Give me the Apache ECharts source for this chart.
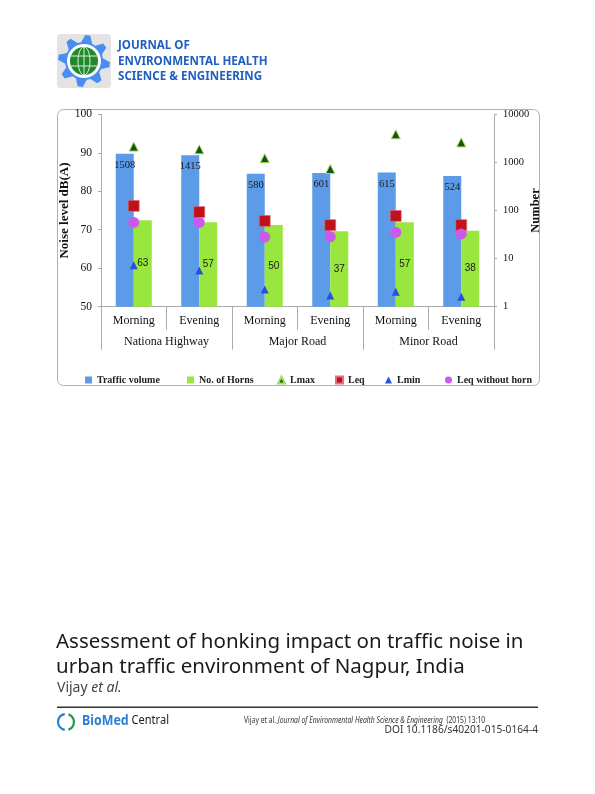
<!DOCTYPE html>
<html><head><meta charset="utf-8">
<script src="https://cdn.jsdelivr.net/npm/echarts@6/dist/echarts.min.js"></script>
<style>html,body{margin:0;padding:0;background:#fff}#c{width:595px;height:794px}</style>
</head><body><div id="c"></div>
<script>
var categories = ["Morning","Evening","Morning","Evening","Morning","Evening"];
var groups = ["Nationa Highway","Major Road","Minor Road"];
var trafficVolume = [1508,1415,580,601,615,524];
var noOfHorns = [63,57,50,37,57,38];
var lmax = [91.6,90.9,88.6,85.8,94.8,92.7];
var leq = [76.2,74.6,72.3,71.2,73.6,71.2];
var leqWithoutHorn = [71.9,71.9,68.1,68.2,69.3,68.9];
var lmin = [60.8,59.4,54.5,52.9,53.9,52.6];
var leftTicks = [50,60,70,80,90,100];
var rightTicks = [1,10,100,1000,10000];

var serif = "Liberation Serif";
var chart = echarts.init(document.getElementById('c'), null, {renderer:'canvas'});

// gear polygon for logo (decoration)
function gearPoints(cx, cy, rOut, rIn, teeth){
  var pts=[]; var n=teeth*4;
  for(var i=0;i<n;i++){
    var a = (i/n)*Math.PI*2 - Math.PI/2 + Math.PI/n/2;
    var r = (i%4<2)? rOut : rIn;
    pts.push([cx+r*Math.cos(a), cy+r*Math.sin(a)]);
  }
  return pts;
}

var legendDefs = [
  {name:'Traffic volume', icon:'rect', left:80},
  {name:'No. of Horns', icon:'rect', left:182},
  {name:'Lmax', icon:'triangle', left:272},
  {name:'Leq', icon:'rect', left:330},
  {name:'Lmin', icon:'triangle', left:380},
  {name:'Leq without horn', icon:'circle', left:440}
];

var option = {
  animation:false,
  textStyle:{fontFamily:serif},
  grid:{left:101, right:101, top:114.3, bottom:487.3, containLabel:false},
  legend: legendDefs.map(function(d){
    return {data:[{name:d.name, icon:d.icon}], left:d.left, top:370, itemWidth:7, itemHeight:7, itemGap:4,
      textStyle:{fontFamily:serif, fontWeight:'bold', fontSize:10, color:'#222'}, selectedMode:false};
  }),
  xAxis:[
    {type:'category', data:categories, position:'bottom', boundaryGap:true,
     axisLine:{lineStyle:{color:'#aaa'}}, axisTick:{show:true, interval:0, length:23, lineStyle:{color:'#aaa'}},
     axisLabel:{interval:0, margin:8, fontFamily:serif, fontSize:12, color:'#111'}},
    {type:'category', data:groups, position:'bottom', offset:23, boundaryGap:true,
     axisLine:{show:false}, axisTick:{show:true, interval:0, length:20, lineStyle:{color:'#aaa'}},
     axisLabel:{interval:0, margin:6, fontFamily:serif, fontSize:12, color:'#111'}}
  ],
  yAxis:[
    {type:'value', min:50, max:100, interval:10, position:'left',
     name:'Noise level dB(A)', nameLocation:'middle', nameGap:30, nameRotate:90, nameMoveOverlap:false,
     nameTextStyle:{fontFamily:serif, fontWeight:'bold', fontSize:13, color:'#111'},
     axisLine:{show:true, lineStyle:{color:'#aaa'}}, axisTick:{show:true, length:3, lineStyle:{color:'#aaa'}},
     splitLine:{show:false},
     axisLabel:{margin:9, fontFamily:serif, fontSize:11.5, color:'#111'}},
    {type:'log', logBase:10, min:1, max:10000, position:'right',
     name:'Number', nameLocation:'middle', nameGap:35, nameRotate:90, nameMoveOverlap:false,
     nameTextStyle:{fontFamily:serif, fontWeight:'bold', fontSize:12.5, color:'#111'},
     axisLine:{show:true, lineStyle:{color:'#aaa'}}, axisTick:{show:true, length:3, lineStyle:{color:'#aaa'}},
     splitLine:{show:false},
     axisLabel:{margin:9, fontFamily:serif, fontSize:10.5, color:'#111', formatter:function(v){return String(Math.round(v));}}}
  ],
  series:[
    {name:'Traffic volume', type:'bar', xAxisIndex:0, yAxisIndex:1, data:trafficVolume, barWidth:18, barGap:'0%',
     itemStyle:{color:'#5B9BE8'},
     label:{show:true, position:'insideTop', distance:6, fontFamily:serif, fontSize:10.5, color:'#1a1a1a'}},
    {name:'No. of Horns', type:'bar', xAxisIndex:0, yAxisIndex:1, data:noOfHorns, barWidth:18, barGap:'0%',
     itemStyle:{color:'#99E63E'},
     label:{show:true, position:'inside', fontFamily:'Liberation Sans', fontSize:10, color:'#1a1a1a'}},
    {name:'Lmax', type:'scatter', xAxisIndex:0, yAxisIndex:0, data:lmax, symbol:'triangle', symbolSize:9,
     itemStyle:{color:'#1d4f1d', borderColor:'#9fe060', borderWidth:1, opacity:1}, z:5},
    {name:'Leq', type:'scatter', xAxisIndex:0, yAxisIndex:0, data:leq, symbol:'rect', symbolSize:11,
     itemStyle:{color:'#c0121a', borderColor:'#e07080', borderWidth:0.6, opacity:1}, z:5},
    {name:'Lmin', type:'scatter', xAxisIndex:0, yAxisIndex:0, data:lmin, symbol:'triangle', symbolSize:8,
     itemStyle:{color:'#2a4fe0', opacity:1}, z:5},
    {name:'Leq without horn', type:'scatter', xAxisIndex:0, yAxisIndex:0, data:leqWithoutHorn, symbol:'circle', symbolSize:11,
     itemStyle:{color:'#cc58ec', opacity:1}, z:5}
  ],
  graphic:[
    // chart frame
    {type:'rect', shape:{x:57.5, y:109.5, width:482, height:276, r:6}, style:{fill:'none', stroke:'#8db6ea', lineWidth:1}, z:-1},
    // logo
    {type:'rect', shape:{x:57, y:34, width:54, height:54, r:4}, style:{fill:'#e3e3e3'}},
    {type:'polygon', shape:{points:gearPoints(84,61,26,19,8)}, style:{fill:'#4a8df0'}},
    {type:'circle', shape:{cx:84, cy:61, r:17}, style:{fill:'#ffffff'}},
    {type:'circle', shape:{cx:84, cy:61, r:14}, style:{fill:'#1f8a2a'}},
    {type:'ellipse', shape:{cx:84, cy:61, rx:6, ry:14}, style:{fill:'none', stroke:'#dfeee0', lineWidth:1}},
    {type:'line', shape:{x1:70, y1:56, x2:98, y2:56}, style:{stroke:'#dfeee0', lineWidth:1}},
    {type:'line', shape:{x1:70, y1:66, x2:98, y2:66}, style:{stroke:'#dfeee0', lineWidth:1}},
    {type:'line', shape:{x1:84, y1:47, x2:84, y2:75}, style:{stroke:'#dfeee0', lineWidth:1}},
    // journal title
    {type:'text', left:118, top:40, style:{text:'JOURNAL OF', font:'bold 11.6px "Noto Sans"', fill:'#1f5fbf'}},
    {type:'text', left:118, top:55.5, style:{text:'ENVIRONMENTAL HEALTH', font:'bold 11.6px "Noto Sans"', fill:'#1f5fbf'}},
    {type:'text', left:118, top:71, style:{text:'SCIENCE & ENGINEERING', font:'bold 11.6px "Noto Sans"', fill:'#1f5fbf'}},
    // article title
    {type:'text', left:56, top:632, style:{text:'Assessment of honking impact on traffic noise in', font:'20.5px "Noto Sans"', fill:'#1a1a1a'}},
    {type:'text', left:56, top:657, style:{text:'urban traffic environment of Nagpur, India', font:'20.5px "Noto Sans"', fill:'#1a1a1a'}},
    {type:'text', left:57, top:681, style:{text:'{a|Vijay }{b|et al.}', rich:{a:{font:'14px "Noto Sans"', fill:'#444'}, b:{font:'italic 14px "Noto Sans"', fill:'#444'}}}},
    {type:'rect', shape:{x:57, y:706.5, width:481, height:1.6}, style:{fill:'#333'}},
    // BioMed Central logo
    {type:'arc', shape:{cx:66, cy:722, r:8, startAngle:Math.PI*0.55, endAngle:Math.PI*1.45}, style:{stroke:'#2a7fd4', lineWidth:2.2, fill:'none'}},
    {type:'arc', shape:{cx:66, cy:722, r:8, startAngle:-Math.PI*0.4, endAngle:Math.PI*0.4}, style:{stroke:'#1f9a4a', lineWidth:2.2, fill:'none'}},
    {type:'text', x:82, y:714, scaleX:0.92, style:{text:'{a|BioMed}{b| Central}', rich:{a:{font:'bold 13.5px "Noto Sans"', fill:'#2a7fd4'}, b:{font:'12px "Noto Sans"', fill:'#222'}}}},
    {type:'text', x:244, y:716, scaleX:0.8, style:{text:'{a|Vijay et al. }{b|Journal of Environmental Health Science & Engineering}{a|  (2015) 13:10}', rich:{a:{font:'8.5px "Noto Sans"', fill:'#333'}, b:{font:'italic 8.5px "Noto Sans"', fill:'#333'}}}},
    {type:'text', right:57, top:725.5, style:{text:'DOI 10.1186/s40201-015-0164-4', font:'10.2px "Noto Sans"', fill:'#333'}}
  ]
};
chart.setOption(option);
</script>
</body></html>
